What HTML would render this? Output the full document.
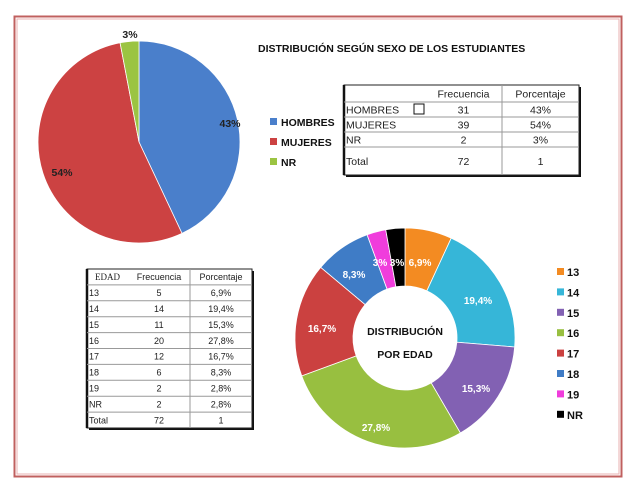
<!DOCTYPE html>
<html><head><meta charset="utf-8"><style>
body{margin:0;background:#fff;}
svg{display:block;font-family:"Liberation Sans",sans-serif;}
</style></head><body>
<svg width="638" height="494" viewBox="0 0 638 494">
<rect x="14.5" y="16.5" width="607" height="460" fill="none" stroke="#c0605f" stroke-width="2"/>
<rect x="17" y="19" width="602" height="455" fill="none" stroke="#e8b0b0" stroke-width="1"/>
<text x="258" y="52" font-size="10.5" font-weight="bold" fill="#111">DISTRIBUCIÓN  SEGÚN SEXO DE LOS ESTUDIANTES</text>
<g id="pie1"></g>
<g id="leg1"></g>
<g id="tab1"></g>
<g id="tab2"></g>
<g id="donut"></g>
<text x="405" y="335" font-size="10.5" font-weight="bold" text-anchor="middle" fill="#111">DISTRIBUCIÓN</text>
<text x="405" y="358" font-size="10.5" font-weight="bold" text-anchor="middle" fill="#111">POR EDAD</text>
<g id="leg2"></g>
</svg>
<script>
const sexCats=["HOMBRES","MUJERES","NR"];
const sexFreq=[31,39,2];
const sexPct=["43%","54%","3%"];
const sexShare=[43,54,3];
const sexColors=["#4a7fcb","#cc4242","#9bc442"];
const ageCats=["13","14","15","16","17","18","19","NR"];
const ageFreq=[5,14,11,20,12,6,2,2];
const agePct=["6,9%","19,4%","15,3%","27,8%","16,7%","8,3%","2,8%","2,8%"];
const ageShare=[6.9,19.4,15.3,27.8,16.7,8.3,2.8,2.8];
const ageLabels=["6,9%","19,4%","15,3%","27,8%","16,7%","8,3%","3%","3%"];
const ageColors=["#f38b22","#36b6d8","#8261b3","#98bf40","#cb4140","#3f7cc6","#f03ddc","#000000"];
const NS="http://www.w3.org/2000/svg";
function mk(t,a,p){const e=document.createElementNS(NS,t);for(const k in a)e.setAttribute(k,a[k]);p.appendChild(e);return e;}
function pt(cx,cy,r,f){const a=f*2*Math.PI;return [cx+r*Math.sin(a),cy-r*Math.cos(a)];}
function arcPath(cx,cy,ro,ri,f0,f1){
  const [x0,y0]=pt(cx,cy,ro,f0),[x1,y1]=pt(cx,cy,ro,f1);const lg=(f1-f0)>0.5?1:0;
  if(ri<=0)return `M${cx},${cy}L${x0},${y0}A${ro},${ro} 0 ${lg} 1 ${x1},${y1}Z`;
  const [x2,y2]=pt(cx,cy,ri,f1),[x3,y3]=pt(cx,cy,ri,f0);
  return `M${x0},${y0}A${ro},${ro} 0 ${lg} 1 ${x1},${y1}L${x2},${y2}A${ri},${ri} 0 ${lg} 0 ${x3},${y3}Z`;
}
// sex pie
const p1=document.getElementById('pie1');
const sTot=sexShare.reduce((a,b)=>a+b,0);
let acc=0;
const pieLbl=[[230,127],[62,176],[130,38]];
sexShare.forEach((v,i)=>{
  const f0=acc/sTot,f1=(acc+v)/sTot;acc+=v;
  const s=mk('path',{d:arcPath(139,142,101,0,f0,f1),fill:sexColors[i],stroke:'#fff','stroke-width':0.8},p1);
  
  
  const t=mk('text',{x:pieLbl[i][0],y:pieLbl[i][1],'font-size':10.5,'font-weight':'bold','text-anchor':'middle',fill:'#222'},p1);
  t.textContent=sexPct[i];
  
  
});
// sex legend
const l1=document.getElementById('leg1');
sexCats.forEach((c,i)=>{
  const y=124+i*20;
  const r=mk('rect',{x:270,y:y-6,width:7,height:7,fill:sexColors[i]},l1);
  
  
  const t=mk('text',{x:281,y:y+2,'font-size':10.5,'font-weight':'bold',fill:'#111'},l1);
  t.textContent=c;
  
  
});
// generic table
function table(g,x,y,cols,rowsY,data,fs,headFont){
  const w=cols[cols.length-1]-x,h=rowsY[rowsY.length-1]-y;
  mk('rect',{x:x+2,y:y+2,width:w,height:h,fill:'#111'},g);
  mk('rect',{x:x,y:y,width:w,height:h,fill:'#fff',stroke:'#222','stroke-width':1},g);
  mk('line',{x1:x,y1:y,x2:x,y2:y+h,stroke:'#111','stroke-width':2.5},g);
  rowsY.slice(1,-1).forEach(ry=>mk('line',{x1:x,y1:ry,x2:x+w,y2:ry,stroke:'#999','stroke-width':1},g));
  cols.slice(1,-1).forEach(cx=>mk('line',{x1:cx,y1:y,x2:cx,y2:y+h,stroke:'#999','stroke-width':1},g));
  data.forEach((row,ri)=>{
    const y0=rowsY[ri],y1=rowsY[ri+1];
    row.forEach((txt,ci)=>{
      const x0=(ci==0?x:cols[ci-1]),x1=cols[ci];
      const left=ci==0&&!(ri==0&&headFont);
      const t=mk('text',{x:left?x0+2:(x0+x1)/2,y:(y0+y1)/2+fs*0.36,'font-size':fs,'text-anchor':left?'start':'middle',fill:'#222'},g);
      if(ri==0&&ci==0&&headFont)t.setAttribute('font-family','"Liberation Serif",serif');
      t.textContent=txt;
      
      
    });
  });
}
const t1=[["","Frecuencia","Porcentaje"]];
sexCats.forEach((c,i)=>t1.push([c,String(sexFreq[i]),sexPct[i]]));
t1.push(["Total",String(sexFreq.reduce((a,b)=>a+b,0)),"1"]);
const g1=document.getElementById('tab1');
table(g1,344,85,[425,502,579],[85,102,117,132,147,175],t1,10.5,false);
mk('rect',{x:414,y:104,width:10,height:10,fill:'none',stroke:'#111'},g1);
const t2=[["EDAD","Frecuencia","Porcentaje"]];
ageCats.forEach((c,i)=>t2.push([c,String(ageFreq[i]),agePct[i]]));
t2.push(["Total",String(ageFreq.reduce((a,b)=>a+b,0)),"1"]);
const rows2=[];for(let i=0;i<=10;i++)rows2.push(269+i*(428-269)/10);
table(document.getElementById('tab2'),87,269,[128,190,252],rows2,t2,9,true);
// donut
const d=document.getElementById('donut');
const aTot=ageShare.reduce((a,b)=>a+b,0);
acc=0;
const dl=[[420,266],[478,304],[476,392],[376,431],[322,332],[354,278],[380,266],[397,266]];
ageShare.forEach((v,i)=>{
  const f0=acc/aTot,f1=(acc+v)/aTot;acc+=v;
  const s=mk('path',{d:arcPath(405,338,110,52,f0,f1),fill:ageColors[i],stroke:'#fff','stroke-width':0.8},d);
  
  
});
ageLabels.forEach((l,i)=>{
  const t=mk('text',{x:dl[i][0],y:dl[i][1],'font-size':10,'font-weight':'bold','text-anchor':'middle',fill:'#fff'},d);
  t.textContent=l;
  
  
});
// age legend
const l2=document.getElementById('leg2');
ageCats.forEach((c,i)=>{
  const y=272+i*20.4;
  const r=mk('rect',{x:557,y:y-4,width:7,height:7,fill:ageColors[i]},l2);
  
  
  const t=mk('text',{x:567,y:y+4,'font-size':11,'font-weight':'bold',fill:'#111'},l2);
  t.textContent=c;
  
  
});
</script>
</body></html>
